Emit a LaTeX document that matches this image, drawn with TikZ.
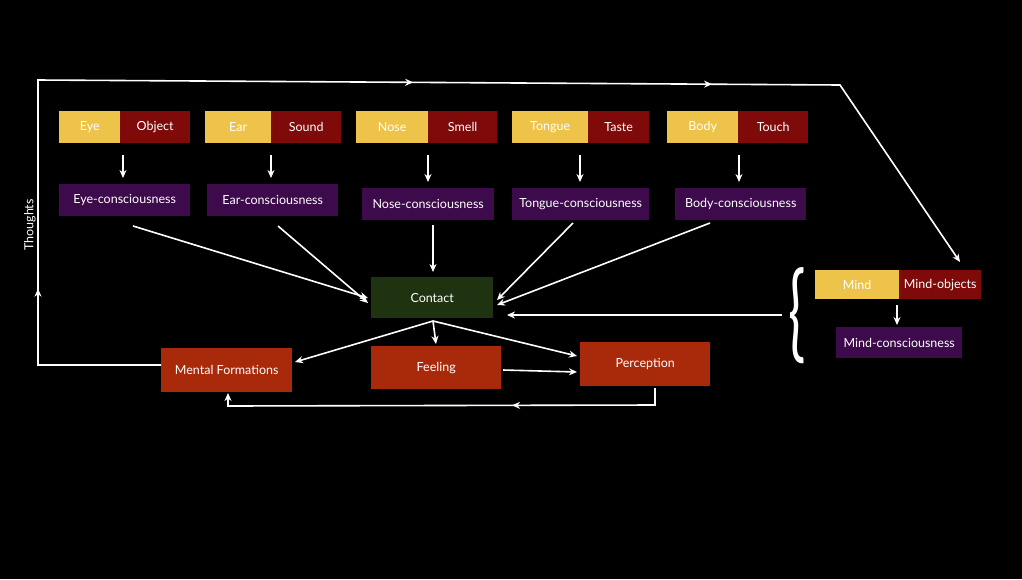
\documentclass[tikz,border=0pt]{standalone}
\usepackage{fontspec}
\setmainfont{Lato}
\usetikzlibrary{decorations.markings,arrows.meta}
\definecolor{yel}{HTML}{EDC34A}
\definecolor{dred}{HTML}{7E0A0A}
\definecolor{purp}{HTML}{3D0A4B}
\definecolor{ored}{HTML}{A82A0A}
\definecolor{dgreen}{HTML}{1F3310}
\begin{document}
\begin{tikzpicture}[x=1pt,y=-1pt,
  box/.style={draw=none,anchor=north west,text=white,font=\fontsize{12.5}{14}\selectfont,inner sep=0pt,align=center},
  arr/.style={white,line width=1.6pt,-{Stealth[length=8pt,width=7pt]}},
  mark/.style={postaction={decorate},decoration={markings,#1}}]
\fill[black] (0,0) rectangle (1022,579);
\useasboundingbox (0,0) rectangle (1022,579);
\newcommand\bx[7]{\node[box,fill=#6,minimum width=#3-#1,minimum height=#4-#2] (#7) at (#1,#2) {#5};}
\bx{59}{111}{120}{143}{Eye}{yel}{eye}
\bx{120}{111}{190}{143}{Object}{dred}{obj}
\bx{205}{111}{271}{143}{Ear}{yel}{ear}
\bx{271}{111}{341}{143}{Sound}{dred}{snd}
\bx{356}{111}{428}{143}{Nose}{yel}{nose}
\bx{428}{111}{497}{143}{Smell}{dred}{sml}
\bx{512}{111}{588}{143}{Tongue}{yel}{tng}
\bx{588}{111}{649}{143}{Taste}{dred}{tst}
\bx{667}{111}{738}{143}{Body}{yel}{body}
\bx{738}{111}{808}{143}{Touch}{dred}{tch}
\bx{59}{184}{190}{216}{Eye-consciousness}{purp}{eyec}
\bx{207}{184}{338}{216}{Ear-consciousness}{purp}{earc}
\bx{362}{188}{494}{220}{Nose-consciousness}{purp}{nosec}
\bx{512}{188}{649}{220}{Tongue-consciousness}{purp}{tngc}
\bx{675}{188}{806}{220}{Body-consciousness}{purp}{bodyc}
\bx{371}{277}{493}{318}{Contact}{dgreen}{con}
\bx{815}{270}{899}{299}{Mind}{yel}{mind}
\bx{899}{270}{981}{299}{Mind-objects}{dred}{mobj}
\bx{836}{327}{962}{358}{Mind-consciousness}{purp}{mindc}
\bx{371}{346}{501}{389}{Feeling}{ored}{feel}
\bx{161}{348}{292}{392}{Mental Formations}{ored}{mf}
\bx{580}{342}{710}{386}{Perception}{ored}{perc}
\node[white,font=\fontsize{48}{48}\selectfont,yscale=2.2,xscale=1.2,inner sep=0pt] (br) at (797,316) {\{};
\node[white,rotate=90,font=\fontsize{12.5}{14}\selectfont] (th) at (30,225) {Thoughts};
\coordinate (a1) at (123,155); \coordinate (b1) at (123,178);
\coordinate (a2) at (271,155); \coordinate (b2) at (271,178);
\coordinate (a3) at (428,155); \coordinate (b3) at (428,182);
\coordinate (a4) at (580,155); \coordinate (b4) at (580,182);
\coordinate (a5) at (739,155); \coordinate (b5) at (739,182);
\foreach \i in {1,...,5} \draw[arr] (a\i) -- (b\i);
\draw[arr] (133,226) -- (368,298);
\draw[arr] (278,226) -- (368,303);
\draw[arr] (433,225) -- (433,272);
\draw[arr] (573,223) -- (497,300);
\draw[arr] (710,223) -- (497,305);
\draw[arr] (782,315) -- (507,315);
\draw[arr] (897,305) -- (897,325);
\draw[arr] (433,321) -- (295,362);
\draw[arr] (433,321) -- (436,344);
\draw[arr] (433,321) -- (577,356);
\draw[arr] (503,370) -- (577,372);
\draw[arr,mark={mark=at position 0.35 with {\arrow{Stealth[length=8pt,width=7pt]}}}] (655,388) -- (655,405) -- (228,406) -- (228,393);
\draw[arr,mark={mark=at position 0.14 with {\arrow{Stealth[length=8pt,width=7pt]}},mark=at position 0.55 with {\arrow{Stealth[length=8pt,width=7pt]}},mark=at position 0.76 with {\arrow{Stealth[length=8pt,width=7pt]}}}] (161,365) -- (38,365) -- (38,80) -- (840,85) -- (960,262);
\end{tikzpicture}
\end{document}
